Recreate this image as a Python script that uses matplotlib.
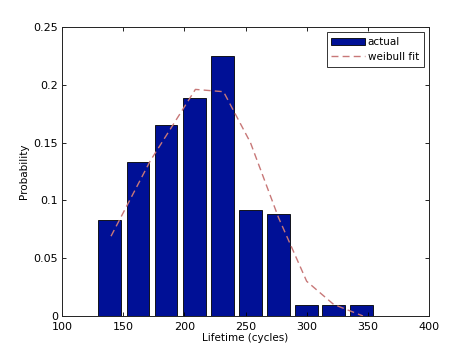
import numpy as np
import matplotlib.pyplot as plt

# histogram of lifetimes (bin centres and probability)
centres = [139, 162, 185, 208, 231, 254, 277, 300, 322, 345]
prob = [0.0826, 0.1330, 0.1652, 0.1885, 0.2250, 0.0920, 0.0878, 0.0092, 0.0092, 0.0092]

# weibull fit curve as drawn
fit_x = [140, 172, 209, 232, 254, 277, 300, 322, 346]
fit_y = [0.069, 0.134, 0.196, 0.194, 0.150, 0.085, 0.030, 0.010, 0.0]

fig = plt.figure(figsize=(4.74, 3.55), dpi=100)
ax = fig.add_axes([0.131, 0.110, 0.774, 0.814])

bars = ax.bar(centres, prob, width=18.6, color='#001096', edgecolor='black',
              linewidth=0.6, label='actual')
line, = ax.plot(fit_x, fit_y, '--', color='#c87878', linewidth=1.0,
                dashes=(5, 3), label='weibull fit')

ax.set_xlim(100, 400)
ax.set_ylim(0, 0.25)
ax.set_xticks([100, 150, 200, 250, 300, 350, 400])
ax.set_yticks([0, 0.05, 0.1, 0.15, 0.2, 0.25])
ax.set_yticklabels(['0', '0.05', '0.1', '0.15', '0.2', '0.25'])
ax.tick_params(direction='in', top=True, right=True, labelsize=8, length=3,
               width=0.6)
ax.tick_params(axis='x', pad=4)
ax.tick_params(axis='y', pad=3)
for s in ax.spines.values():
    s.set_linewidth(0.7)
    s.set_color('#222222')

ax.set_xlabel('Lifetime (cycles)', fontsize=7.5, labelpad=1)
ax.set_ylabel('Probability', fontsize=7.5, labelpad=3)

leg = ax.legend([bars, line], ['actual', 'weibull fit'], loc='upper right',
                fontsize=7.5, frameon=True, fancybox=False,
                handlelength=3.2, borderpad=0.45, labelspacing=0.5,
                handletextpad=0.3, borderaxespad=0.5)
leg.get_frame().set_edgecolor('black')
leg.get_frame().set_linewidth(0.7)

plt.savefig('out.png', dpi=100)
